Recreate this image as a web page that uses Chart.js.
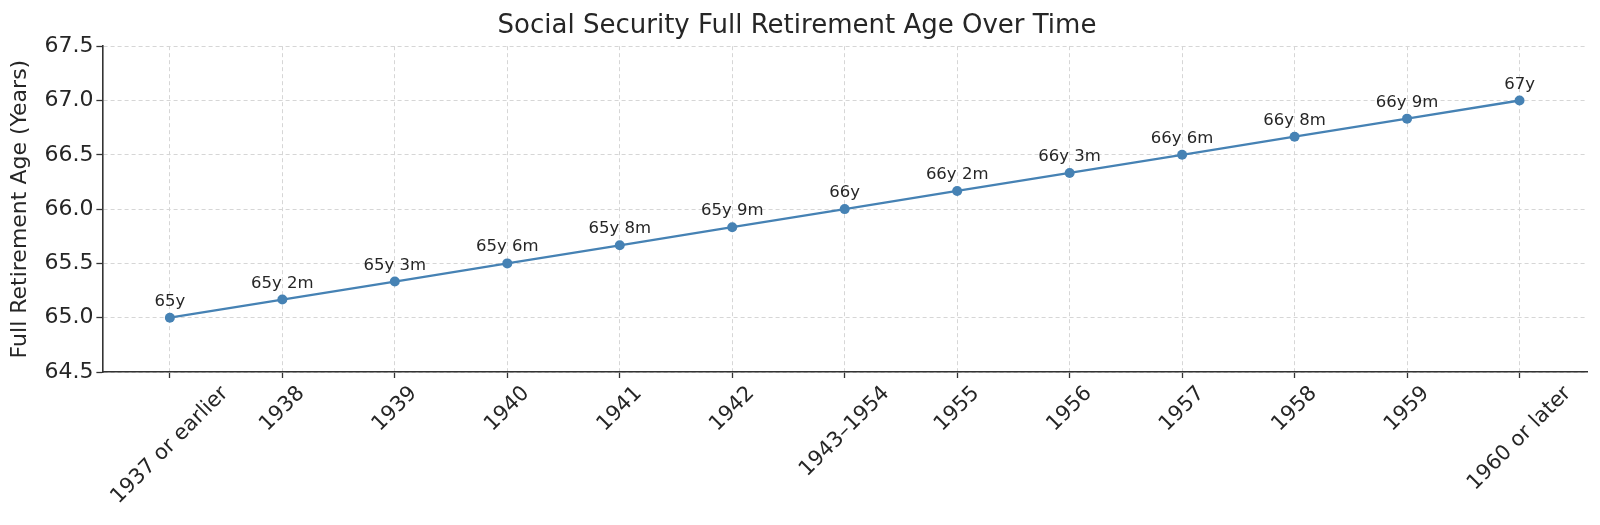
<!DOCTYPE html>
<html>
<head>
<meta charset="utf-8">
<script src="https://cdn.jsdelivr.net/npm/chart.js@4/dist/chart.umd.min.js"></script>
<style>
  html, body { margin: 0; padding: 0; background: #fff; }
  #wrap { width: 1600px; height: 525px; position: relative; }
</style>
</head>
<body>
<div id="wrap"><canvas id="c"></canvas></div>
<script>
const categories = ["1937 or earlier", "1938", "1939", "1940", "1941", "1942", "1943\u20131954", "1955", "1956", "1957", "1958", "1959", "1960 or later"];
const ages = [65.0, 65.167, 65.333, 65.5, 65.667, 65.833, 66.0, 66.167, 66.333, 66.5, 66.667, 66.833, 67.0];
const ageLabels = ["65y", "65y 2m", "65y 3m", "65y 6m", "65y 8m", "65y 9m", "66y", "66y 2m", "66y 3m", "66y 6m", "66y 8m", "66y 9m", "67y"];
const yTicks = [64.5, 65.0, 65.5, 66.0, 66.5, 67.0, 67.5];

const FONT = "'DejaVu Sans', sans-serif";
const TEXT = '#262626';
const points = ages.map((v, i) => ({ x: i, y: v }));

const labelPlugin = {
  id: 'pointLabels',
  afterDatasetsDraw(chart) {
    const ctx = chart.ctx;
    const meta = chart.getDatasetMeta(0);
    ctx.save();
    ctx.font = "16.5px " + FONT;
    ctx.fillStyle = TEXT;
    ctx.textAlign = 'center';
    ctx.textBaseline = 'alphabetic';
    meta.data.forEach((el, i) => {
      ctx.fillText(ageLabels[i], el.x, el.y - 12);
    });
    ctx.restore();
  }
};

// x tick labels rotated 45 degrees, centred on their tick (matplotlib ha='center')
const xLabelPlugin = {
  id: 'xLabels',
  afterDraw(chart) {
    const ctx = chart.ctx;
    const sx = chart.scales.x;
    const size = 21;
    const s = Math.SQRT1_2;
    ctx.save();
    ctx.font = size + "px " + FONT;
    ctx.fillStyle = TEXT;
    ctx.textAlign = 'center';
    ctx.textBaseline = 'middle';
    const top = chart.chartArea.bottom + 6 + 3.5;
    categories.forEach((lab, i) => {
      const w = ctx.measureText(lab).width;
      const h = size * 1.17;
      const cx = sx.getPixelForValue(i);
      const cy = top + (w + h) * s / 2;
      ctx.save();
      ctx.translate(cx, cy);
      ctx.rotate(-Math.PI / 4);
      ctx.fillText(lab, 0, 0);
      ctx.restore();
    });
    ctx.restore();
  }
};

const gridOpts = {
  color: '#d6d6d6',
  lineWidth: 1,
  drawTicks: true,
  tickLength: 6,
  tickColor: '#333333',
  tickWidth: 1.3,
  tickBorderDash: []
};

new Chart(document.getElementById('c'), {
  type: 'line',
  data: {
    datasets: [{
      data: points,
      borderColor: '#4682b4',
      backgroundColor: '#4682b4',
      borderWidth: 2.3,
      pointRadius: 5,
      pointHoverRadius: 5,
      pointBorderWidth: 0,
      tension: 0
    }]
  },
  options: {
    responsive: true,
    maintainAspectRatio: false,
    animation: false,
    layout: { padding: { left: 7, right: 13, top: 3, bottom: 147 } },
    plugins: {
      legend: { display: false },
      tooltip: { enabled: false },
      title: {
        display: true,
        text: 'Social Security Full Retirement Age Over Time',
        color: TEXT,
        font: { family: FONT, size: 26, weight: 'normal' },
        padding: { top: 8, bottom: 4 }
      }
    },
    scales: {
      x: {
        type: 'linear',
        min: -0.6,
        max: 12.6,
        afterBuildTicks: axis => { axis.ticks = categories.map((_, i) => ({ value: i })); },
        ticks: { display: false },
        grid: gridOpts,
        border: { display: true, color: '#333333', width: 1.6, dash: [4, 3] }
      },
      y: {
        min: 64.5,
        max: 67.5,
        afterBuildTicks: axis => { axis.ticks = yTicks.map(v => ({ value: v })); },
        ticks: {
          color: TEXT,
          font: { family: FONT, size: 22 },
          padding: 3,
          callback: v => Number(v).toFixed(1)
        },
        title: {
          display: true,
          text: 'Full Retirement Age (Years)',
          color: TEXT,
          font: { family: FONT, size: 22 },
          padding: { top: 0, bottom: 8 }
        },
        grid: gridOpts,
        border: { display: true, color: '#333333', width: 1.6, dash: [4, 3] }
      }
    }
  },
  plugins: [labelPlugin, xLabelPlugin]
});
</script>
</body>
</html>
